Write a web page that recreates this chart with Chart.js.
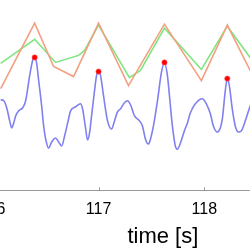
<!DOCTYPE html>
<html lang="en">
<head>
  <meta charset="UTF-8">
  <title>Peak detection</title>
  <script src="https://cdn.jsdelivr.net/npm/chart.js"></script>
  <style>
    html, body {
      margin: 0;
      padding: 0;
      width: 250px;
      height: 250px;
      overflow: hidden;
      background: #fff;
    }
    /* the plot is a crop of a wider figure, so the canvas hangs off the left edge */
    #signalChart {
      position: absolute;
      left: -30px;
      top: 0;
    }
  </style>
</head>
<body>

<canvas id="signalChart" width="385" height="258"></canvas>

<script>
  // time axis ticks
  const tickValues = [116, 117, 118];

  // filtered signal (blue)
  const signalTime = [116.075, 116.104, 116.132, 116.160, 116.179, 116.198, 116.217, 116.245, 116.283, 116.311,
    116.349, 116.377, 116.396, 116.415, 116.434, 116.462, 116.481, 116.500, 116.528, 116.557,
    116.594, 116.623, 116.651, 116.679, 116.708, 116.736, 116.783, 116.830, 116.849, 116.877,
    116.896, 116.915, 116.934, 116.962, 116.981, 117.000, 117.019, 117.047, 117.085, 117.123,
    117.151, 117.179, 117.208, 117.245, 117.274, 117.302, 117.340, 117.387, 117.415, 117.443,
    117.472, 117.491, 117.519, 117.557, 117.594, 117.623, 117.651, 117.679, 117.698, 117.726,
    117.745, 117.774, 117.811, 117.840, 117.868, 117.915, 117.981, 118.019, 118.057, 118.085,
    118.123, 118.151, 118.170, 118.198, 118.217, 118.236, 118.264, 118.292, 118.321, 118.349,
    118.387, 118.434, 118.462];
  const signalValue = [0.90, 0.89, 0.82, 0.69, 0.62, 0.67, 0.74, 0.79, 0.82, 0.89,
    1.14, 1.29, 1.32, 1.26, 1.09, 0.84, 0.64, 0.51, 0.42, 0.48,
    0.52, 0.48, 0.44, 0.54, 0.67, 0.79, 0.83, 0.86, 0.81, 0.62,
    0.50, 0.57, 0.74, 0.99, 1.14, 1.18, 1.14, 0.94, 0.69, 0.61,
    0.69, 0.78, 0.81, 0.87, 0.89, 0.85, 0.74, 0.69, 0.64, 0.51,
    0.46, 0.51, 0.64, 0.89, 1.17, 1.27, 1.14, 0.84, 0.64, 0.44,
    0.41, 0.47, 0.59, 0.67, 0.77, 0.86, 0.91, 0.86, 0.76, 0.64,
    0.58, 0.62, 0.71, 0.99, 1.11, 1.04, 0.81, 0.64, 0.58, 0.59,
    0.69, 0.84, 0.91];

  // detected peaks (red)
  const peakTime = [116.396, 117.000, 117.623, 118.217];
  const peakValue = [1.32, 1.18, 1.27, 1.11];

  // upper envelope (salmon)
  const upperTime = [116.075, 116.396, 116.575, 116.764, 117.000, 117.283, 117.623, 117.972, 118.217, 118.453];
  const upperValue = [1.01, 1.66, 1.23, 1.13, 1.66, 1.04, 1.65, 1.09, 1.64, 1.15];

  // smoothed envelope (green)
  const envTime = [116.075, 116.396, 116.594, 116.811, 116.868, 117.000, 117.292, 117.396, 117.623, 117.972, 118.217, 118.453];
  const envValue = [1.26, 1.50, 1.27, 1.34, 1.39, 1.64, 1.12, 1.19, 1.61, 1.20, 1.63, 1.29];

  function toPoints(xs, ys) {
    return xs.map((x, i) => ({ x: x, y: ys[i] }));
  }

  // small tick marks pointing into the plot, like the original figure
  const innerTicks = {
    id: 'innerTicks',
    afterDraw(chart) {
      const scale = chart.scales.x;
      const ctx = chart.ctx;
      ctx.save();
      ctx.strokeStyle = '#9a9a9a';
      ctx.lineWidth = 1;
      tickValues.forEach(v => {
        const px = Math.round(scale.getPixelForValue(v)) + 0.5;
        ctx.beginPath();
        ctx.moveTo(px, scale.top);
        ctx.lineTo(px, scale.top - 3);
        ctx.stroke();
      });
      ctx.restore();
    }
  };

  const ctx = document.getElementById('signalChart').getContext('2d');
  new Chart(ctx, {
    type: 'line',
    data: {
      datasets: [
        {
          label: 'signal',
          data: toPoints(signalTime, signalValue),
          borderColor: '#8080f0',
          borderWidth: 1.6,
          pointRadius: 0,
          cubicInterpolationMode: 'monotone',
          order: 3
        },
        {
          label: 'envelope',
          data: toPoints(envTime, envValue),
          borderColor: '#7fe57f',
          borderWidth: 1.6,
          pointRadius: 0,
          tension: 0,
          order: 2
        },
        {
          label: 'upper',
          data: toPoints(upperTime, upperValue),
          borderColor: '#f2a080',
          borderWidth: 1.6,
          pointRadius: 0,
          tension: 0,
          order: 1
        },
        {
          label: 'peaks',
          data: toPoints(peakTime, peakValue),
          showLine: false,
          pointRadius: 2.6,
          pointBackgroundColor: '#ff0000',
          pointBorderColor: 'rgba(255,80,80,0.6)',
          pointBorderWidth: 1,
          order: 0
        }
      ]
    },
    options: {
      responsive: false,
      animation: false,
      devicePixelRatio: 1,
      clip: false,
      layout: { autoPadding: false, padding: { top: 0, left: 0, right: 0, bottom: 8 } },
      plugins: {
        legend: { display: false },
        tooltip: { enabled: false }
      },
      scales: {
        x: {
          type: 'linear',
          min: 115.792,
          max: 119.424,
          afterBuildTicks: scale => {
            scale.ticks = tickValues.map(v => ({ value: v }));
          },
          grid: { display: false, drawTicks: false },
          border: { display: true, color: '#9a9a9a', width: 1 },
          ticks: {
            autoSkip: false,
            maxRotation: 0,
            padding: 10,
            color: '#000',
            font: { family: 'Liberation Sans, Arial, sans-serif', size: 16 }
          },
          title: {
            display: true,
            text: 'time [s]',
            color: '#000',
            padding: { top: -6, bottom: 0 },
            font: { family: 'Liberation Sans, Arial, sans-serif', size: 22 }
          }
        },
        y: {
          display: false,
          min: 0,
          max: 1.89
        }
      }
    },
    plugins: [innerTicks]
  });
</script>

</body>
</html>
